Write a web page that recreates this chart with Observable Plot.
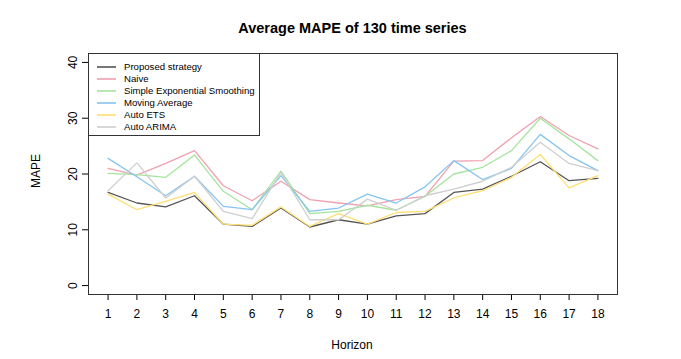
<!DOCTYPE html>
<html>
<head>
<meta charset="utf-8">
<script src="https://cdn.jsdelivr.net/npm/d3@7"></script>
<script src="https://cdn.jsdelivr.net/npm/@observablehq/plot@0.6"></script>
<style>
  html, body { margin: 0; padding: 0; background: #fff; }
  #wrap { position: relative; width: 681px; height: 359px; font-family: "Liberation Sans", Arial, sans-serif; }
  #title { position: absolute; left: 88px; width: 529px; top: 20px; text-align: center; font-weight: bold; font-size: 14.5px; color: #000; }
  #ylab { position: absolute; left: 36px; top: 171px; transform: translate(-50%, -50%) rotate(-90deg); font-size: 12px; }
  #xlab { position: absolute; left: 352px; top: 345px; transform: translate(-50%, -50%); font-size: 12px; }
  #legend { position: absolute; left: 88px; top: 53px; width: 172px; height: 83px; border: 1px solid #333; box-sizing: border-box; background: #fff; }
  .item { position: absolute; left: 0; height: 12px; font-size: 9.6px; line-height: 12px; white-space: nowrap; }
  .item svg { position: absolute; left: 8px; top: 0; }
  .item span { position: absolute; left: 35px; top: 0; }
</style>
</head>
<body>
<div id="wrap">
  <div id="chart"></div>
  <div id="title">Average MAPE of 130 time series</div>
  <div id="ylab">MAPE</div>
  <div id="xlab">Horizon</div>
  <div id="legend"></div>
</div>
<script>
const horizons = [1,2,3,4,5,6,7,8,9,10,11,12,13,14,15,16,17,18];
const seriesNames = ["Proposed strategy", "Naive", "Simple Exponential Smoothing", "Moving Average", "Auto ETS", "Auto ARIMA"];
const seriesColors = ["#555555", "#f0a0ae", "#a6e49e", "#86c4f0", "#ffdf72", "#cfcfcf"];
const proposed = [16.7,14.8,14.1,16.1,11.0,10.6,13.9,10.5,11.8,11.0,12.5,12.9,16.7,17.3,19.6,22.2,18.8,19.2];
const naive    = [21.0,19.8,21.9,24.2,17.9,15.2,18.7,15.4,14.8,14.3,15.4,16.0,22.3,22.4,26.5,30.3,26.9,24.5];
const ses      = [20.1,19.9,19.4,23.4,16.9,13.6,20.5,12.9,13.3,14.4,13.5,16.0,20.0,21.2,24.2,30.0,26.3,22.4];
const movAvg   = [22.8,19.5,16.1,19.6,14.2,13.6,19.7,13.3,13.9,16.4,14.8,17.7,22.4,19.0,21.0,27.1,23.3,20.6];
const autoETS  = [16.4,13.6,15.1,16.7,11.0,10.8,14.1,10.6,12.9,11.0,13.1,13.3,15.7,17.0,19.4,23.5,17.5,19.7];
const autoARIMA= [17.0,22.0,15.7,19.6,13.3,12.0,20.3,11.8,11.8,15.5,13.5,16.1,17.3,18.7,21.2,25.7,21.9,20.6];
const yTicks = [0, 10, 20, 30, 40];

const allSeries = [proposed, naive, ses, movAvg, autoETS, autoARIMA];
const rows = [];
allSeries.forEach((vals, i) => vals.forEach((v, j) => rows.push({h: horizons[j], v, s: seriesNames[i]})));

const marks = [];
seriesNames.forEach((name, i) => {
  marks.push(Plot.line(rows.filter(d => d.s === name), {x: "h", y: "v", stroke: seriesColors[i], strokeWidth: 1.3}));
});

const chart = Plot.plot({
  width: 681,
  height: 359,
  marginLeft: 88,
  marginRight: 64,
  marginTop: 53,
  marginBottom: 65,
  style: {fontFamily: "Liberation Sans, Arial, sans-serif", fontSize: "12px", background: "#fff", color: "#000"},
  x: {domain: [0.32, 18.68], ticks: horizons, tickSize: 6, tickPadding: 9, label: null, tickFormat: d => String(d)},
  y: {domain: [-1.6, 41.6], ticks: yTicks, tickSize: 6, tickPadding: 6, tickRotate: -90, label: null},
  marks: [
    Plot.frame({stroke: "#333"}),
    ...marks
  ]
});
document.getElementById("chart").appendChild(chart);

const legend = document.getElementById("legend");
seriesNames.forEach((name, i) => {
  const div = document.createElement("div");
  div.className = "item";
  div.style.top = (7 + i * 11.9) + "px";
  div.innerHTML = `<svg width="20" height="12"><line x1="0" x2="19" y1="6" y2="6" stroke="${seriesColors[i]}" stroke-width="1.6"/></svg><span>${name}</span>`;
  legend.appendChild(div);
});
</script>
</body>
</html>
